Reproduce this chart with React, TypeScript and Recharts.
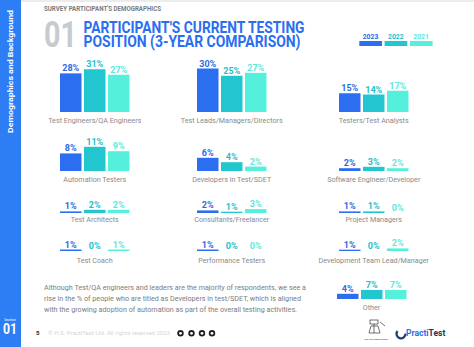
import React from 'react'
import { BarChart, Bar, Cell, XAxis, YAxis, LabelList } from 'recharts'

const years = ['2023', '2022', '2021']
const roles = [
	'Test Engineers/QA Engineers',
	'Test Leads/Managers/Directors',
	'Testers/Test Analysts',
	'Automation Testers',
	'Developers in Test/SDET',
	'Software Engineer/Developer',
	'Test Architects',
	'Consultants/Freelancer',
	'Project Managers',
	'Test Coach',
	'Performance Testers',
	'Development Team Lead/Manager',
	'Other',
]
const share2023 = [28, 30, 15, 8, 6, 2, 1, 2, 1, 1, 1, 1, 4]
const share2022 = [31, 25, 14, 11, 4, 3, 2, 1, 1, 0, 0, 0, 7]
const share2021 = [27, 27, 17, 9, 2, 2, 2, 3, 0, 1, 0, 2, 7]

const paragraph = [
	'Although Test/QA engineers and leaders are the majority of respondents, we see a',
	'rise in the % of people who are titled as Developers in test/SDET, which is aligned',
	'with the growing adoption of automation as part of the overall testing activities.',
]

const BAR = ['#2b6ff0', '#21c6cf', '#55f0dc']
const LABEL = ['#2c6be3', '#1fc0ca', '#5de8da']
const FONT = 'Roboto, "Noto Sans", sans-serif'

// plot left, baseline y, px per percent
const layout = [
	[58.75, 112.3, 1.38],
	[195.75, 112.3, 1.45],
	[337.75, 112.3, 1.25],
	[58.75, 171, 2.2],
	[195.75, 171, 2.2],
	[337.75, 171, 1.4],
	[58.75, 212.5, 1.6],
	[195.75, 212.5, 1.3],
	[337.75, 212.5, 1.6],
	[58.75, 250.5, 1.5],
	[195.75, 250.5, 1.5],
	[337.75, 250.5, 1.3],
	[335.5, 299, 1.3],
]
const labelGap = [8.2, 8.2, 8.2, 8.5, 8.5, 8.5, 7, 7, 7, 9.5, 9.5, 9.5, 8]

const PLOT_H = 60
const TOP = 16

function ValueLabel(props: any) {
	const { x, y, width, value, index } = props
	return (
		<text
			x={x + width / 2}
			y={y - 2}
			textAnchor='middle'
			fill={LABEL[index]}
			fontFamily={FONT}
			fontWeight={700}
			fontSize={9}
		>
			{value}
		</text>
	)
}

function MiniBars({ i }: { i: number }) {
	const [left, base, scale] = layout[i]
	const data = years.map((y, k) => ({
		year: y,
		v: [share2023, share2022, share2021][k][i],
	}))
	return (
		<div style={{ position: 'absolute', left, top: base - PLOT_H - TOP }}>
			<BarChart
				width={72}
				height={PLOT_H + TOP}
				data={data}
				margin={{ top: TOP, right: 0, bottom: 0, left: 0 }}
				barCategoryGap={0}
			>
				<XAxis hide dataKey='year' />
				<YAxis hide domain={[0, PLOT_H / scale]} allowDataOverflow />
				<Bar dataKey='v' barSize={21.5} minPointSize={0.01} isAnimationActive={false}>
					{data.map((d, k) => (
						<Cell key={d.year} fill={BAR[k]} />
					))}
					<LabelList dataKey={(d: any) => `${d.v}%`} content={ValueLabel} />
				</Bar>
			</BarChart>
		</div>
	)
}

export default function App() {
	return (
		<div
			style={{
				position: 'fixed',
				left: 0,
				top: 0,
				width: 474,
				height: 347,
				background: '#fff',
				overflow: 'hidden',
			}}
		>
			<svg width={474} height={347} style={{ position: 'absolute', left: 0, top: 0 }}>
				<rect x={0} y={0} width={474} height={2} fill='#ececec' />
				<rect x={0} y={0} width={21} height={347} fill='#2d7df5' />
				<text
					transform='translate(12.5,71.5) rotate(-90)'
					textAnchor='middle'
					fill='#fff'
					fontFamily={FONT}
					fontWeight={700}
					fontSize={7.5}
					textLength={123}
					lengthAdjust='spacingAndGlyphs'
				>
					Demographics and Background
				</text>
				<text x={10} y={321} textAnchor='middle' fill='#fff' fontFamily={FONT} fontSize={3.5}>
					Section
				</text>
				<text
					x={3}
					y={333.5}
					fill='#fff'
					fontFamily={FONT}
					fontWeight={700}
					fontSize={14}
					textLength={14}
					lengthAdjust='spacingAndGlyphs'
				>
					01
				</text>

				<text
					x={44}
					y={10.7}
					fill='#7a7a7a'
					fontFamily={FONT}
					fontWeight={700}
					fontSize={6.8}
					textLength={117}
					lengthAdjust='spacingAndGlyphs'
				>
					SURVEY PARTICIPANT'S DEMOGRAPHICS
				</text>
				<text
					x={44}
					y={46.7}
					fill='#c5cbd1'
					fontFamily={FONT}
					fontWeight={700}
					fontSize={37}
					textLength={33}
					lengthAdjust='spacingAndGlyphs'
				>
					01
				</text>
				<text
					x={83.5}
					y={33}
					fill='#2b6ff0'
					fontFamily={FONT}
					fontWeight={700}
					fontSize={17}
					textLength={221}
					lengthAdjust='spacingAndGlyphs'
				>
					PARTICIPANT'S CURRENT TESTING
				</text>
				<text
					x={83.5}
					y={46.5}
					fill='#2b6ff0'
					fontFamily={FONT}
					fontWeight={700}
					fontSize={17}
					textLength={217}
					lengthAdjust='spacingAndGlyphs'
				>
					POSITION (3-YEAR COMPARISON)
				</text>

				{years.map((y, k) => (
					<g key={y}>
						<text
							x={370.5 + k * 25.3}
							y={38.8}
							textAnchor='middle'
							fill={LABEL[k]}
							fontFamily={FONT}
							fontWeight={700}
							fontSize={6.8}
						>
							{y}
						</text>
						<rect x={359.3 + k * 25.3} y={41} width={22.7} height={5} fill={BAR[k]} />
					</g>
				))}

				{roles.map((r, i) => (
					<text
						key={r}
						x={layout[i][0] + 36}
						y={layout[i][1] + labelGap[i] + 2.6}
						textAnchor='middle'
						fill='#8a8a8a'
						fontFamily={FONT}
						fontSize={7.2}
					>
						{r}
					</text>
				))}

				{paragraph.map((line, i) => (
					<text
						key={i}
						x={44}
						y={[289.8, 300.8, 312.2][i]}
						fill='#7d7d7d'
						fontFamily={FONT}
						fontSize={7.2}
						textLength={[262, 257, 253][i]}
						lengthAdjust='spacingAndGlyphs'
					>
						{line}
					</text>
				))}

				<text x={36} y={335} fill='#222' fontFamily={FONT} fontWeight={700} fontSize={6}>
					5
				</text>
				<text
					x={48}
					y={335}
					fill='#d6d6d6'
					fontFamily={FONT}
					fontSize={5.5}
					textLength={122}
					lengthAdjust='spacingAndGlyphs'
				>
					© H.S. PractiTest Ltd. All rights reserved 2023
				</text>
				{[180.5, 191.5, 202, 212].map((cx) => (
					<g key={cx}>
						<circle cx={cx} cy={333.3} r={3.2} fill='#1e1e1e' />
						<circle cx={cx} cy={333.3} r={1.4} fill='#fff' />
					</g>
				))}

				<g stroke='#333' strokeWidth={0.7} fill='none'>
					<rect x={370} y={320} width={8} height={4} />
					<line x1={374} y1={324} x2={374} y2={333} />
					<path d='M369 333 L380 333 L378 326 L371 326 Z' />
					<line x1={380} y1={322} x2={385} y2={326} />
				</g>
				<text x={376} y={339.5} textAnchor='middle' fill='#333' fontFamily={FONT} fontSize={2.5}>
					The Inner Bash Tester
				</text>
				<path
					d='M397.5 331 A4.5 4.5 0 1 0 405.5 333.5'
					stroke='#1f3d73'
					strokeWidth={2.2}
					fill='none'
				/>
				<text x={406} y={336} fontFamily={FONT} fontWeight={700} fontSize={8.5}>
					<tspan fill='#2b6ff0'>Practi</tspan>
					<tspan fill='#1f2f55'>Test</tspan>
				</text>
			</svg>
			{roles.map((r, i) => (
				<MiniBars key={r} i={i} />
			))}
		</div>
	)
}
